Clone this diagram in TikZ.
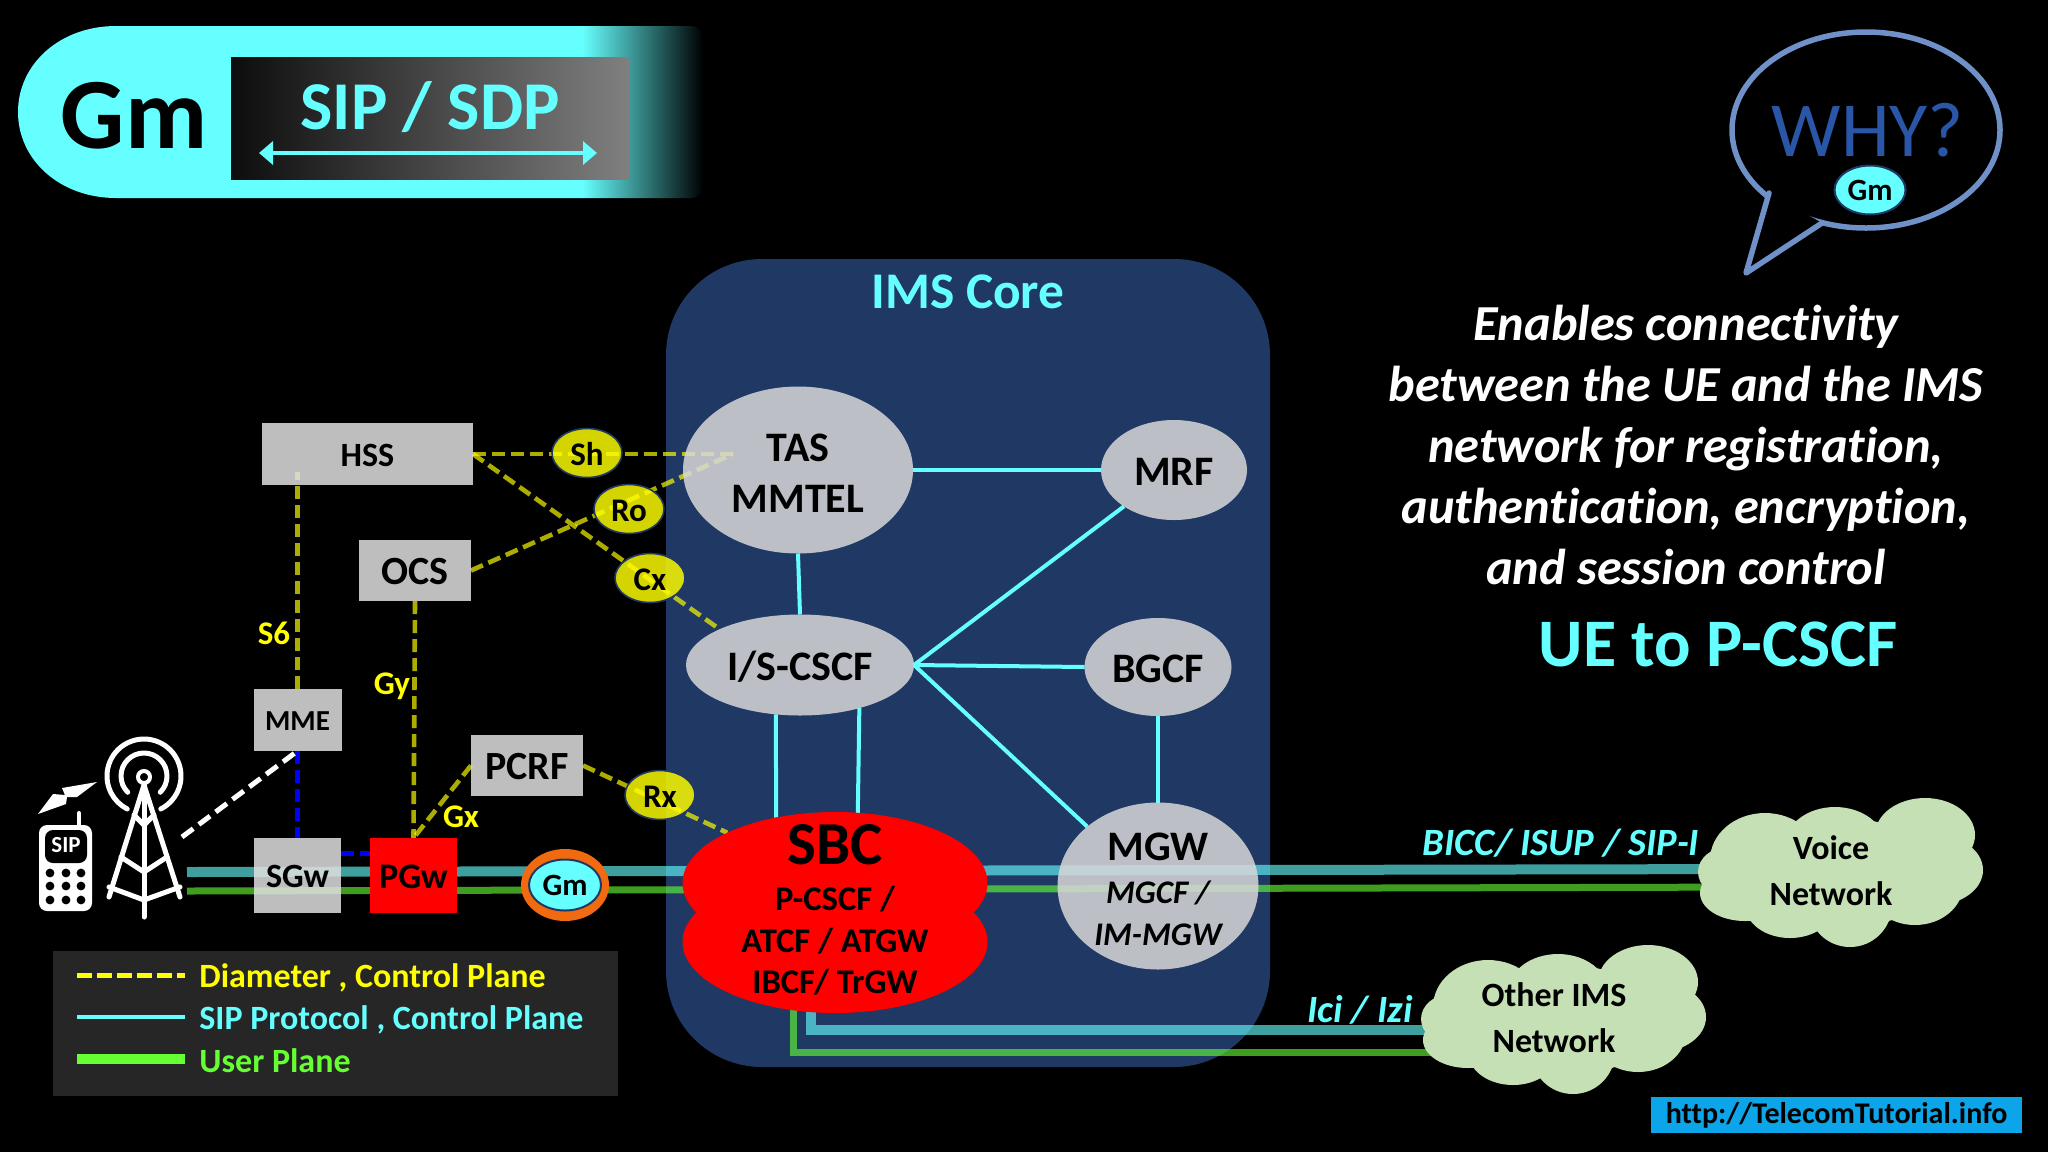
\documentclass[tikz,border=0pt]{standalone}
\usepackage{fontspec}
\setmainfont{Carlito}[Ligatures={NoCommon}]
\usetikzlibrary{arrows.meta, shapes.geometric, positioning}
\pgfdeclarelayer{bottom}
\pgfdeclarelayer{wires}
\pgfsetlayers{bottom,wires,main}
\definecolor{gmcyan}{HTML}{66FFFF}
\definecolor{imsblue}{HTML}{1F3864}
\definecolor{blockgray}{HTML}{E0E0E0}
\definecolor{ovalgray}{HTML}{D8D8D8}
\definecolor{diamyellow}{HTML}{FFFF00}
\definecolor{userplane}{HTML}{66FF33}
\definecolor{cloudgreen}{HTML}{C5E0B4}
\definecolor{bubbleblue}{HTML}{7090C8}
\definecolor{whyblue}{HTML}{2A56A8}
\definecolor{ringorange}{HTML}{F26A10}
\definecolor{urlblue}{HTML}{0CA5E9}
\definecolor{legendgray}{HTML}{262626}
\newcommand{\fsz}[2]{\fontsize{#1pt}{#2pt}\selectfont\bfseries}
% one cloud, from overlapping puffs round its middle
\newcommand{\cloudblob}[2]{
  \begin{scope}[shift={(#1,#2)}]
    \foreach \cx/\cy/\rx/\ry in {-75/-13/55/47, -112/-1/30/25, -95/20/45/28, -50/32/45/33, 10/32/42/42, 75/12/48/40, 95/-3/48/35, 85/-38/50/37, -5/-28/50/38, 0/0/100/55}
      \fill[cloudgreen] (\cx,\cy) ellipse [x radius=\rx*0.5pt,y radius=\ry*0.5pt];
  \end{scope}
}
\tikzset{
  grayblock/.style={rectangle, fill=blockgray, fill opacity=.85, text opacity=1, text=black, inner sep=0pt, outer sep=0pt, font=\fsz{17}{20}},
  grayoval/.style={ellipse, fill=ovalgray, fill opacity=.85, text opacity=1, text=black, inner sep=0pt, outer sep=0pt, font=\fsz{21}{25.5}, align=center},
  ifoval/.style={ellipse, draw=imsblue, line width=.8pt, fill=diamyellow, fill opacity=.83, text opacity=1, text=black, minimum width=35pt, minimum height=24.5pt, inner sep=0pt, outer sep=0pt, text height=12.5pt, text depth=0pt, font=\fsz{16.5}{20}},
  sbclobe/.style={ellipse, fill=red, minimum width=152.5pt, minimum height=71pt, inner sep=0pt, outer sep=0pt},
  gmoval/.style={ellipse, draw=imsblue, line width=1pt, fill=gmcyan, text=black, inner sep=0pt, outer sep=0pt, font=\fsz{15.5}{18}},
  cloudtext/.style={text=black, inner sep=0pt, outer sep=0pt, align=center, font=\fsz{17}{23}},
  ylabel/.style={text=diamyellow, inner sep=0pt, font=\fsz{16.5}{18}},
  sigtext/.style={text=gmcyan, inner sep=0pt, font=\fsz{19.3}{22}\itshape},
  legendtext/.style={anchor=west, inner sep=0pt, font=\fsz{17}{20}},
  diamwire/.style={draw=diamyellow, draw opacity=.68, line width=2.3pt, dash pattern=on 6.5pt off 3pt},
  sipwire/.style={draw=gmcyan, draw opacity=.62, line width=5pt},
  userwire/.style={draw=userplane, draw opacity=.62, line width=3.5pt},
  imslink/.style={draw=gmcyan, line width=2pt},
  bluewire/.style={draw=blue, line width=2.3pt, dash pattern=on 6.5pt off 3pt},
  towerline/.style={draw=white, line width=2.5pt, line join=round, line cap=round},
  bubbleline/.style={draw=bubbleblue, line width=2.75pt, line join=round, line cap=round}
}
\begin{document}
\begin{tikzpicture}[x=.5pt,y=-.5pt,on grid]

  % page and ims box
  \begin{pgfonlayer}{bottom}
    \path[use as bounding box,fill=black] (0,0) rectangle (2048,1152);
    \fill[imsblue,rounded corners=48pt] (666,259) rectangle (1270,1067);
  \end{pgfonlayer}
  \node[text=gmcyan,font=\fsz{25.7}{30}] (imscore) at (968,292) {IMS Core};

  % banner
  \fill[gmcyan] (116,26) -- (583,26) -- (583,198) -- (116,198)
     .. controls (60,198) and (18,160) .. (18,112) .. controls (18,64) and (60,26) .. (116,26) -- cycle;
  \path[left color=gmcyan,right color=black] (582,26) [rounded corners=6pt] -- (703,26) -- (703,198) [sharp corners] -- (582,198) -- cycle;
  \path[left color=black!95,right color=black!50!white] (231,57) rectangle (629,179);
  \node[text=black,font=\fsz{50.5}{50}] (gmtitle) at (134,116) {Gm};
  \node[text=gmcyan,font=\fsz{34.2}{36}] (siptitle) at (430,107) {SIP / SDP};
  \coordinate (sipleft) at (259,153);
  \coordinate (sipright) at (597,153);
  \draw[gmcyan,line width=2.3pt,{Triangle[length=7pt,width=11.5pt]}-{Triangle[length=7pt,width=11.5pt]}] (sipleft) -- (sipright);

  % why bubble
  \node[ellipse,bubbleline,draw,minimum width=134pt,minimum height=98pt,inner sep=0pt,outer sep=0pt] (whybubble) at (1866,130) {};
  \coordinate (tailleft) at (1769,193);
  \coordinate (tailtip) at (1746,273);
  \coordinate (tailright) at (1822,223);
  \fill[black] (tailleft) -- (tailtip) -- (tailright) -- cycle;
  \draw[bubbleline] (tailleft) -- (tailtip) -- (tailright);
  \node[text=whyblue,font=\fontsize{39}{42}\selectfont,inner sep=0pt] (whytext) at (1868,130) {WHY?};
  \node[gmoval,minimum width=35.5pt,minimum height=24.5pt] (whygm) at (1870,190) {Gm};

  % right text
  \node[text=white,align=center,font=\fsz{25.2}{30.6}\itshape] (whyans) at (1686,445) {Enables connectivity\\between the UE and the IMS\\network for registration,\\authentication, encryption,\\and session control};
  \node[text=gmcyan,font=\fsz{34}{36}] (uepcscf) at (1718,644) {UE to P-CSCF};

  % epc side
  \node[grayblock,minimum width=43.5pt,minimum height=37.5pt,text height=12.3pt] (sgw) at (297.5,875.5) {SGw};
  \node[grayblock,fill=red,fill opacity=1,minimum width=43.5pt,minimum height=37.5pt,text height=12.9pt,font=\fsz{18}{20}] (pgw) [right=58pt of sgw] {PGw};
  \node[grayblock,minimum width=44pt,minimum height=31pt,text height=10.6pt,font=\fsz{14.5}{20}] (mme) [above=77.75pt of sgw] {MME};
  \node[grayblock,minimum width=105.5pt,minimum height=31pt,text height=12.3pt] (hss) at (367.5,454) {HSS};
  \node[grayblock,minimum width=56pt,minimum height=30.5pt,text height=14.3pt,font=\fsz{20}{22}] (ocs) at (415,570.5) {OCS};
  \node[grayblock,minimum width=56pt,minimum height=30.5pt,text height=14.3pt,font=\fsz{20}{22}] (pcrf) at (527,765.5) {PCRF};
  \node[ellipse,fill=ringorange,minimum width=44pt,minimum height=36pt,inner sep=0pt] (gmring) at (565,885) {};
  \node[gmoval,minimum width=36pt,minimum height=25.5pt] (gm) at (565,885) {Gm};

  % ims side
  \node[grayoval,minimum width=115pt,minimum height=83.5pt,text height=42.6pt] (tas) at (798,470) {TAS\\MMTEL};
  \node[grayoval,minimum width=73pt,minimum height=50pt,text height=15.5pt,text depth=0pt] (mrf) [right=188pt of tas] {MRF};
  \node[grayoval,minimum width=114pt,minimum height=50.5pt,text height=15.5pt,text depth=0pt] (iscscf) at (800,665) {I/S-CSCF};
  \node[grayoval,minimum width=73.5pt,minimum height=49pt,text height=15.5pt,text depth=0pt] (bgcf) at (1158,667) {BGCF};
  \node[grayoval,minimum width=100.5pt,minimum height=83.5pt] (mgw) at (1158,886) {};
  \node[text=black,inner sep=0pt,font=\fsz{21}{24}] (mgwname) at (1158,847) {MGW};
  \node[text=black,inner sep=0pt,align=center,font=\fsz{16.5}{21}\itshape] (mgwsub) at (1158,913) {MGCF /\\IM-MGW};
  \node[sbclobe] (sbctop) at (835,883) {};
  \node[sbclobe] (sbcbot) at (835,942) {};
  \node[text=black,inner sep=0pt,font=\fsz{30.5}{32}] (sbcname) at (835,845) {SBC};
  \node[text=black,inner sep=0pt,align=center,font=\fsz{17.3}{20.7}] (sbcsub) at (835,941) {P-CSCF /\\ATCF / ATGW\\IBCF/ TrGW};

  % interface ovals
  \node[ifoval] (sh) at (587,453) {Sh};
  \node[ifoval] (ro) at (629,509) {Ro};
  \node[ifoval] (cx) at (650,578) {Cx};
  \node[ifoval] (rx) at (660,795) {Rx};

  % clouds
  \cloudblob{1840}{873}
  \node[cloudtext] (voice) at (1831,871) {Voice\\Network};
  \cloudblob{1563}{1020}
  \node[cloudtext] (otherims) at (1554,1018) {Other IMS\\Network};

  % wires under the nodes
  \coordinate (tasjoin) at (733,454);
  \coordinate (towerend) at (182,837);
  \coordinate (sipstart) at (187,872);
  \coordinate (userstart) at (187,891);
  \begin{pgfonlayer}{wires}
    \path[diamwire] (hss.east) edge (tasjoin)
                    (hss.east) edge (iscscf.156)
                    (ocs.east) edge (tasjoin)
                    (ocs.south) edge (pgw.north)
                    (pcrf.west) edge (pgw.north)
                    (pcrf.east) edge (sbctop.155)
                    (mme.north) edge ([yshift=6.5pt]mme.north |- hss.south);
    \path[bluewire] (mme.south) edge (sgw.north)
                    ([yshift=11pt]sgw.east) edge ([yshift=11pt]pgw.west);
    \draw[white,line width=2.5pt,dash pattern=on 7pt off 3.5pt] (towerend) -- (mme.south);
    \path[imslink] (tas.east) edge (mrf.west)
                   (tas.south) edge (iscscf.north)
                   (iscscf.east) edge (mrf.216)
                   (iscscf.east) edge (bgcf.west)
                   (iscscf.east) edge (mgw.140)
                   (bgcf.south) edge (mgw.north)
                   (iscscf.-116) edge (sbctop.132)
                   (iscscf.-36.6) edge (sbctop.72);
    \draw[sipwire] (sipstart) -- ([yshift=1pt]voice.west);
    \draw[userwire] (userstart) -- ([yshift=-8pt]voice.west);
    \draw[sipwire] ([xshift=-12pt,yshift=5pt]sbcbot.south) |- ([yshift=-6pt]otherims.west);
    \draw[userwire] ([xshift=-21pt,yshift=5pt]sbcbot.south) |- ([yshift=-17pt]otherims.west);
  \end{pgfonlayer}

  % labels on the wires
  \node[ylabel] (s6) at (274,633) {S6};
  \node[ylabel] (gy) at (392,686) {Gy};
  \node[ylabel] (gx) at (461,817) {Gx};
  \node[sigtext] (bicc) at (1561,843) {BICC/ ISUP / SIP-I};
  \node[sigtext] (ici) at (1360,1010) {Ici / Izi};

  % phone and tower
  \fill[white,rounded corners=4pt] (39,825) rectangle (92,911);
  \draw[white,line width=2pt,line cap=round] (79,825) -- (79,813);
  \fill[black,rounded corners=4pt] (45,830) rectangle (87,863);
  \node[text=white,inner sep=0pt,font=\fsz{11.5}{12}] (phonesip) at (66,845) {SIP};
  \foreach \kx in {50,66,81}
    \foreach \ky in {873,886,900}
      \fill[black] (\kx,\ky) circle [radius=2.2pt];
  \fill[white] (38,814) -- (53,794) -- (65,795) -- (62,788) -- (97,782) -- (77,797) -- (67,797) -- (66,804) -- cycle;
  \draw[towerline] ([shift={(-63:18.5pt)}]144,776) arc [start angle=-63,end angle=243,radius=18.5pt];
  \draw[towerline] ([shift={(-45:11.5pt)}]144,776) arc [start angle=-45,end angle=225,radius=11.5pt];
  \draw[white,line width=2pt] (144,777) circle [radius=3pt];
  \draw[towerline] (109,897) -- (144,785) -- (180,897);
  \draw[towerline] (144,785) -- (144,917);
  \draw[towerline] (134,815) -- (144,825) -- (154,815);
  \draw[towerline] (121,857) -- (144,872) -- (167,857);
  \draw[towerline] (109,887) -- (144,900) -- (180,887);

  % legend
  \fill[legendgray] (53,951) rectangle (618,1096);
  \coordinate (diamleft) at (77,975);
  \coordinate (diamright) at (185,975);
  \coordinate (sipl) at (77,1017);
  \coordinate (sipr) at (185,1017);
  \coordinate (userl) at (77,1059);
  \coordinate (userr) at (185,1059);
  \draw[diamyellow,line width=2.5pt,dash pattern=on 7.5pt off 2.5pt] (diamleft) -- (diamright);
  \draw[gmcyan,line width=2.3pt] (sipl) -- (sipr);
  \draw[userplane,line width=5pt] (userl) -- (userr);
  \node[legendtext,text=diamyellow] (legdiam) at (199,978) {Diameter , Control Plane};
  \node[legendtext,text=gmcyan] (legsip) at (199,1020) {SIP Protocol , Control Plane};
  \node[legendtext,text=userplane] (leguser) at (199,1061) {User Plane};

  % url
  \node[fill=urlblue,text=black,minimum width=185.5pt,minimum height=18pt,inner sep=0pt,font=\fsz{15}{16}] (url) at (1836.5,1115) {http://TelecomTutorial.info};

\end{tikzpicture}
\end{document}
